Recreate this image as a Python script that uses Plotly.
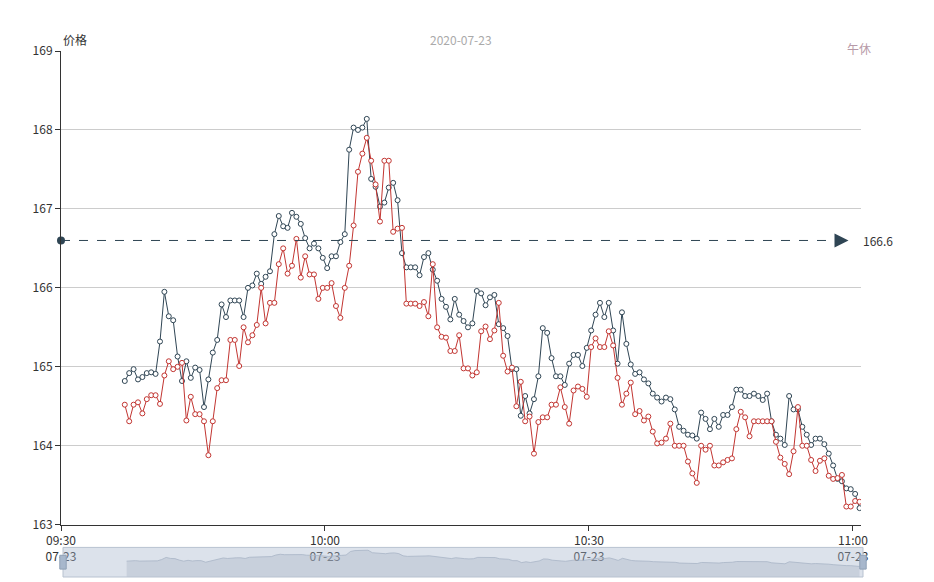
import plotly.graph_objects as go
import pandas as pd

dark = [164.82,164.92,164.97,164.84,164.87,164.92,164.93,164.91,165.32,165.95,165.64,165.59,165.13,164.82,165.07,164.86,164.99,164.96,164.49,164.84,
165.18,165.34,165.79,165.63,165.84,165.84,165.84,165.63,166.00,166.03,166.18,166.05,166.14,166.21,166.68,166.91,166.78,166.76,166.95,166.90,
166.81,166.63,166.50,166.56,166.50,166.38,166.25,166.40,166.40,166.58,166.68,167.75,168.03,168.00,168.03,168.14,167.38,167.28,167.03,
167.08,167.27,167.33,167.11,166.44,166.26,166.26,166.26,166.16,166.39,166.44,166.23,166.09,165.86,165.76,165.60,165.86,165.66,165.58,165.50,
165.55,165.96,165.93,165.78,165.88,165.91,165.54,165.49,165.39,164.97,164.97,164.38,164.63,164.41,164.59,164.88,165.49,165.43,165.11,164.88,
164.88,164.77,165.04,165.15,165.15,165.01,165.24,165.46,165.66,165.81,165.63,165.81,165.46,165.04,165.69,165.29,
165.03,164.91,164.93,164.84,164.79,164.66,164.61,164.56,164.61,164.59,164.46,164.24,164.19,164.14,164.13,164.09,164.42,164.34,164.21,164.34,
164.24,164.39,164.39,164.49,164.71,164.71,164.63,164.63,164.66,164.63,164.58,164.66,164.31,164.14,164.09,164.01,164.63,164.46,164.46,164.24,
164.14,164.01,164.09,164.09,164.02,163.90,163.75,163.58,163.55,163.46,163.45,163.39,163.21]

red = [164.52,164.31,164.52,164.55,164.41,164.59,164.64,164.64,164.53,164.89,165.07,164.97,165.00,165.05,164.32,164.62,164.40,164.40,164.31,163.88,
164.31,164.73,164.83,164.83,165.34,165.34,165.01,165.50,165.31,165.40,165.53,166.00,165.55,165.81,165.81,166.30,166.50,166.18,166.28,166.62,
166.13,166.40,166.17,166.17,165.86,166.00,166.00,166.06,165.77,165.62,166.00,166.28,166.79,167.47,167.70,167.90,167.61,167.31,166.84,
167.61,167.61,166.71,166.75,166.76,165.80,165.80,165.80,165.77,165.82,165.64,166.30,165.50,165.38,165.37,165.20,165.20,165.40,164.98,164.98,
164.89,164.93,165.45,165.51,165.35,165.46,165.81,165.14,164.94,164.99,164.50,164.81,164.31,164.37,163.90,164.30,164.36,164.36,164.52,164.52,
164.74,164.49,164.28,164.70,164.75,164.72,164.62,165.25,165.36,165.25,165.25,165.45,165.27,164.86,164.52,164.66,
164.80,164.40,164.44,164.32,164.37,164.18,164.03,164.04,164.09,164.28,164.00,164.00,164.00,163.80,163.65,163.53,164.00,163.95,164.00,163.75,
163.75,163.79,163.82,163.84,164.21,164.43,164.36,164.12,164.31,164.31,164.31,164.31,164.31,164.05,163.85,163.77,163.64,163.93,164.49,164.00,
164.00,163.82,163.68,163.81,163.84,163.62,163.58,163.59,163.63,163.23,163.23,163.30,163.29,163.21]

mark_value = 166.6
tick_vals = ["2020-07-23 09:30", "2020-07-23 10:00", "2020-07-23 10:30", "2020-07-23 11:00"]
tick_text = ["09:30<br>07-23", "10:00<br>07-23", "10:30<br>07-23", "11:00<br>07-23"]

times = pd.date_range("2020-07-23 09:37:15", periods=len(dark), freq="30s")
xr = ["2020-07-23 09:30:00", "2020-07-23 11:00:55"]

fig = go.Figure()
fig.add_trace(go.Scatter(x=times, y=dark, mode="lines+markers",
    line=dict(color="#2f4554", width=1),
    marker=dict(size=5, color="white", line=dict(color="#2f4554", width=1)), showlegend=False))
fig.add_trace(go.Scatter(x=times, y=red, mode="lines+markers",
    line=dict(color="#c23531", width=1),
    marker=dict(size=5, color="white", line=dict(color="#c23531", width=1)), showlegend=False))
fig.add_trace(go.Scatter(x=[xr[0], "2020-07-23 10:59:30"], y=[mark_value, mark_value], mode="lines",
    line=dict(color="#2f4554", width=1, dash="dash"), showlegend=False, cliponaxis=False))
fig.add_trace(go.Scatter(x=[xr[0]], y=[mark_value], mode="markers",
    marker=dict(size=8, color="#2f4554"), showlegend=False, cliponaxis=False))
fig.add_trace(go.Scatter(x=["2020-07-23 10:59:30"], y=[mark_value], mode="markers",
    marker=dict(size=14, color="#2f4554", symbol="arrow-right", line=dict(width=0)), showlegend=False, cliponaxis=False))
fig.add_annotation(x="2020-07-23 11:00:55", y=mark_value, text=f"{mark_value}", showarrow=False,
    xanchor="left", font=dict(size=12, color="#333"))

fig.add_trace(go.Scatter(x=times, y=dark, mode="lines", xaxis="x2", yaxis="y2",
    line=dict(color="#aab4c2", width=0.8), fill="tozeroy", fillcolor="rgba(160,170,185,0.35)", showlegend=False))

fig.update_layout(
    width=934, height=582, margin=dict(l=53, r=81, t=43, b=6),
    plot_bgcolor="white", paper_bgcolor="white",
    font=dict(family="Noto Sans CJK SC, sans-serif", size=12, color="#333"),
    xaxis=dict(type="date", range=xr, tickvals=tick_vals, ticktext=tick_text, showgrid=False,
               showline=True, linecolor="#333", ticks="outside", ticklen=5, tickcolor="#333",
               zeroline=False, anchor="y", domain=[0, 1]),
    yaxis=dict(range=[163, 169], dtick=1, showgrid=True, gridcolor="#ccc", showline=True,
               linecolor="#333", ticks="outside", ticklen=5, tickcolor="#333", zeroline=False,
               domain=[53/533, 1]),
    xaxis2=dict(type="date", range=xr, visible=False, anchor="y2", domain=[0.0025, 1]),
    yaxis2=dict(range=[160, 169], visible=False, domain=[0, 30/533]),
)
fig.add_shape(type="rect", xref="paper", yref="paper", x0=0.0025, x1=1.0025, y0=0, y1=30/533,
    fillcolor="rgba(167,183,204,0.4)", line=dict(color="#b8c2d0", width=1), layer="above")
for xx in [0.0025, 1.0025]:
    fig.add_shape(type="rect", xref="paper", yref="paper", x0=xx-0.004, x1=xx+0.004,
        y0=8/533, y1=22/533, fillcolor="#a7b7cc", line=dict(color="#8fa0b6", width=1))
fig.add_annotation(x=0.5, y=1, xref="paper", yref="paper", yshift=22, text="2020-07-23",
    showarrow=False, font=dict(size=12, color="#aaa"))
fig.add_annotation(x=0, y=1, xref="paper", yref="paper", yshift=22, text="价格",
    showarrow=False, font=dict(size=12, color="#333"))
fig.add_annotation(x=1.015, y=1, xref="paper", yref="paper", yshift=13, text="午休", xanchor="right",
    showarrow=False, font=dict(size=12, color="#b79aa8"))
fig.write_html("out.html")
